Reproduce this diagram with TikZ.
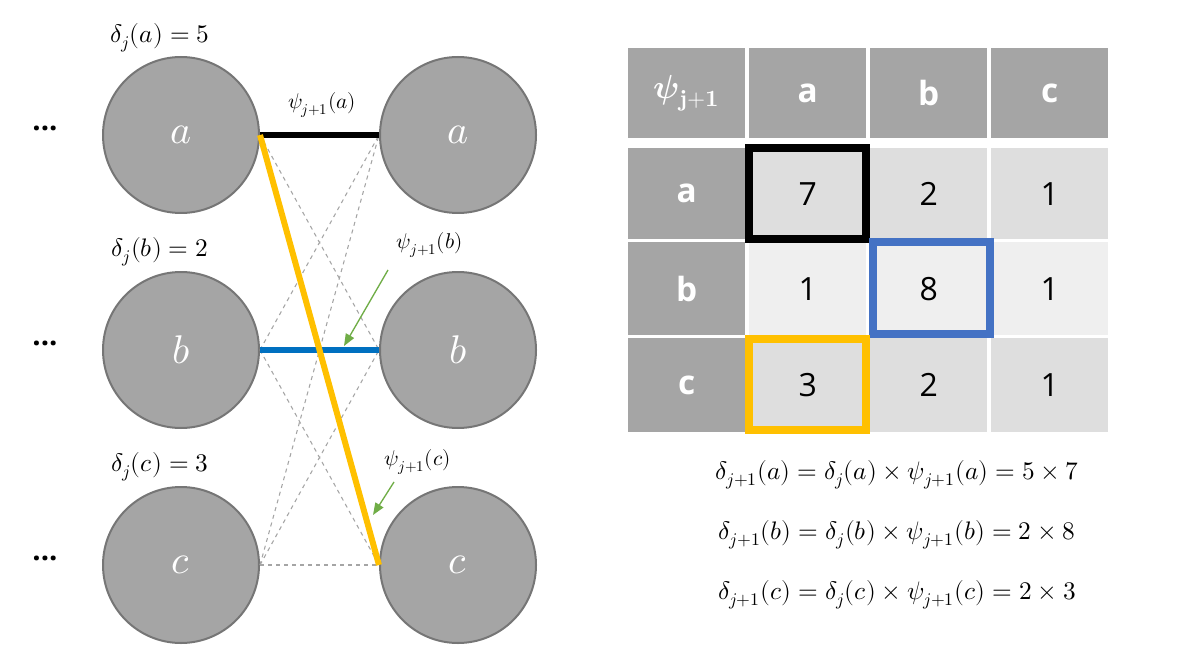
\documentclass[tikz,border=0pt]{standalone}
\usepackage{fontspec}
\usepackage{unicode-math}
\setmainfont{Open Sans}
\usetikzlibrary{arrows.meta}
\definecolor{cgray}{HTML}{A5A5A5}
\definecolor{cedge}{HTML}{767676}
\definecolor{cl1}{HTML}{DEDEDE}
\definecolor{cl2}{HTML}{EFEFEF}
\definecolor{cblue}{HTML}{0070C0}
\definecolor{cbox}{HTML}{4472C4}
\definecolor{cyel}{HTML}{FFC000}
\definecolor{cgreen}{HTML}{70AD47}
\begin{document}
\begin{tikzpicture}[x=0.75pt,y=-0.75pt,
  st/.style={circle,fill=cgray,draw=cedge,line width=1.5pt,minimum size=117pt,inner sep=0pt,text=white,font=\fontsize{30}{30}\selectfont},
  dsh/.style={draw=cgray,dashed,line width=0.8pt},
  hd/.style={fill=cgray,text=white,font=\fontsize{25}{25}\selectfont\bfseries,minimum width=87.75pt,minimum height=67.5pt,inner sep=0pt,anchor=north west},
  cl/.style={text=black,font=\fontsize{24}{24}\selectfont,minimum width=87.75pt,minimum height=69pt,inner sep=0pt,anchor=north west},
  lbl/.style={font=\fontsize{16}{16}\selectfont},
  eq/.style={font=\fontsize{19}{19}\selectfont},
  arr/.style={draw=cgreen,line width=1pt,-{Triangle[length=9pt,width=7pt]}}]
\useasboundingbox (0,0) rectangle (1191,659);
% circles
\node[st] (la) at (181,135) {$a$};
\node[st] (lb) at (181,350) {$b$};
\node[st] (lc) at (181,565) {$c$};
\node[st] (ra) at (458,135) {$a$};
\node[st] (rb) at (458,350) {$b$};
\node[st] (rc) at (458,565) {$c$};
\node[font=\fontsize{22}{22}\selectfont\bfseries] (d1) at (45,128) {...};
\node[font=\fontsize{22}{22}\selectfont\bfseries] (d2) at (45,343) {...};
\node[font=\fontsize{22}{22}\selectfont\bfseries] (d3) at (45,558) {...};
% dashed
\foreach \l in {la,lb,lc}{\foreach \r in {ra,rb,rc}{\draw[dsh] (\l.east) -- (\r.west);}}
\draw[black,line width=4.5pt] (la.east) -- (ra.west);
\draw[cblue,line width=4pt] (lb.east) -- (rb.west);
\draw[cyel,line width=4.5pt] (la.east) -- (rc.west);
% labels
\node[lbl] (pa) at (322,105) {$\psi_{j+1}(a)$};
\node[lbl] (pb) at (430,245) {$\psi_{j+1}(b)$};
\node[lbl] (pc) at (418,462) {$\psi_{j+1}(c)$};
\node[lbl,font=\fontsize{19}{19}\selectfont] (da) at (160,38) {$\delta_j(a)=5$};
\node[lbl,font=\fontsize{19}{19}\selectfont] (db) at (160,252) {$\delta_j(b)=2$};
\node[lbl,font=\fontsize{19}{19}\selectfont] (dc) at (160,467) {$\delta_j(c)=3$};
\coordinate (ab) at (344,346);
\coordinate (ac) at (373,515);
\draw[arr] (388,270) -- (ab);
\draw[arr] (394,482) -- (ac);
% table
\node[hd] (h0) at (628,48) {$\symbf{\psi_{j+1}}$};
\node[hd] (h1) at (749,48) {a};
\node[hd] (h2) at (870,48) {b};
\node[hd] (h3) at (991,48) {c};
\node[hd,minimum height=68.25pt] (r1) at (628,148) {a};
\node[hd,minimum height=69.75pt] (r2) at (628,242) {b};
\node[hd,minimum height=70.5pt] (r3) at (628,338) {c};
\node[cl,fill=cl1,minimum height=68.25pt] (c11) at (749,148) {7};
\node[cl,fill=cl1,minimum height=68.25pt] (c12) at (870,148) {2};
\node[cl,fill=cl1,minimum height=68.25pt] (c13) at (991,148) {1};
\node[cl,fill=cl2,minimum height=69.75pt] (c21) at (749,242) {1};
\node[cl,fill=cl2,minimum height=69.75pt] (c22) at (870,242) {8};
\node[cl,fill=cl2,minimum height=69.75pt] (c23) at (991,242) {1};
\node[cl,fill=cl1,minimum height=70.5pt] (c31) at (749,338) {3};
\node[cl,fill=cl1,minimum height=70.5pt] (c32) at (870,338) {2};
\node[cl,fill=cl1,minimum height=70.5pt] (c33) at (991,338) {1};
\draw[black,line width=6pt] (749,148) rectangle (866,239);
\draw[cbox,line width=6pt] (873,242) rectangle (990,334);
\draw[cyel,line width=6pt] (749,339) rectangle (866,430);
% equations
\node[eq] (e1) at (897,475) {$\delta_{j+1}(a)=\delta_j(a)\times\psi_{j+1}(a)=5\times 7$};
\node[eq] (e2) at (897,535) {$\delta_{j+1}(b)=\delta_j(b)\times\psi_{j+1}(b)=2\times 8$};
\node[eq] (e3) at (897,595) {$\delta_{j+1}(c)=\delta_j(c)\times\psi_{j+1}(c)=2\times 3$};
\end{tikzpicture}
\end{document}
